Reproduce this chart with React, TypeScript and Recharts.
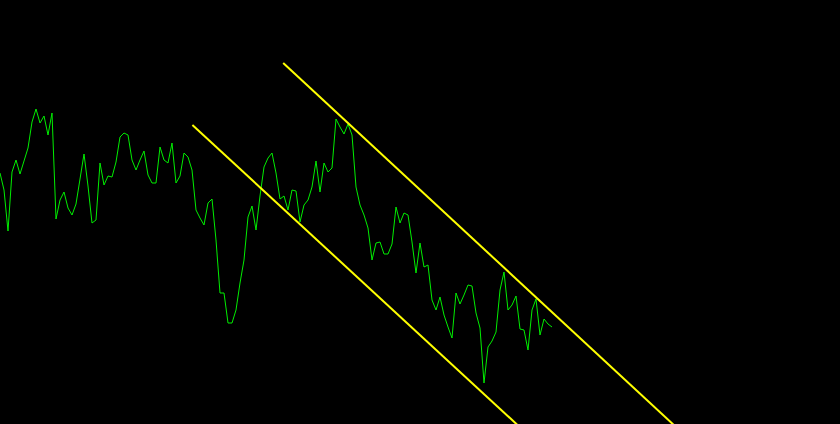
import React from 'react';
import { LineChart, Line, XAxis, YAxis } from 'recharts';

// closing values, one per bar
const closes = [
  251, 234, 193, 252, 264, 250, 263, 276, 302, 315, 301, 308, 289, 311, 205, 224,
  232, 216, 209, 220, 245, 270, 238, 201, 204, 261, 239, 248, 247, 262, 287, 291,
  289, 264, 254, 264, 273, 249, 241, 241, 277, 264, 261, 281, 241, 248, 271, 267,
  254, 214, 206, 199, 221, 225, 184, 131, 131, 101, 101, 114, 141, 164, 207, 218,
  194, 228, 257, 266, 271, 251, 225, 228, 214, 234, 233, 202, 219, 224, 237, 263,
  232, 261, 252, 256, 305, 297, 290, 300, 289, 237, 219, 209, 196, 164, 181, 182,
  170, 170, 180, 217, 201, 211, 209, 182, 151, 181, 157, 159, 124, 114, 127, 109,
  97, 86, 131, 120, 129, 139, 138, 111, 96, 41, 77, 83, 92, 134, 152, 114,
  119, 128, 95, 94, 74, 114, 125, 89, 105, 100, 97,
];

const priceData = closes.map((close, bar) => ({ bar, close }));

// descending channel, two anchor points each
const channelLower = [
  { bar: 48.1, value: 299 },
  { bar: 131, value: -7 },
];
const channelUpper = [
  { bar: 70.8, value: 361 },
  { bar: 169, value: -3 },
];

const W = 840;
const H = 424;

export default function App() {
  return (
    <div style={{ position: 'fixed', top: 0, left: 0, width: W, height: H, background: '#000' }}>
      <LineChart width={W} height={H} margin={{ top: 0, right: 0, bottom: 0, left: 0 }}>
        <XAxis dataKey="bar" type="number" domain={[0, 210]} hide allowDataOverflow />
        <YAxis type="number" domain={[0, 424]} hide allowDataOverflow />
        <Line
          data={priceData}
          dataKey="close"
          stroke="#00ee00"
          strokeWidth={1}
          dot={false}
          activeDot={false}
          isAnimationActive={false}
        />
        <Line
          data={channelLower}
          dataKey="value"
          stroke="#ffff00"
          strokeWidth={2}
          dot={false}
          activeDot={false}
          isAnimationActive={false}
        />
        <Line
          data={channelUpper}
          dataKey="value"
          stroke="#ffff00"
          strokeWidth={2}
          dot={false}
          activeDot={false}
          isAnimationActive={false}
        />
      </LineChart>
    </div>
  );
}
